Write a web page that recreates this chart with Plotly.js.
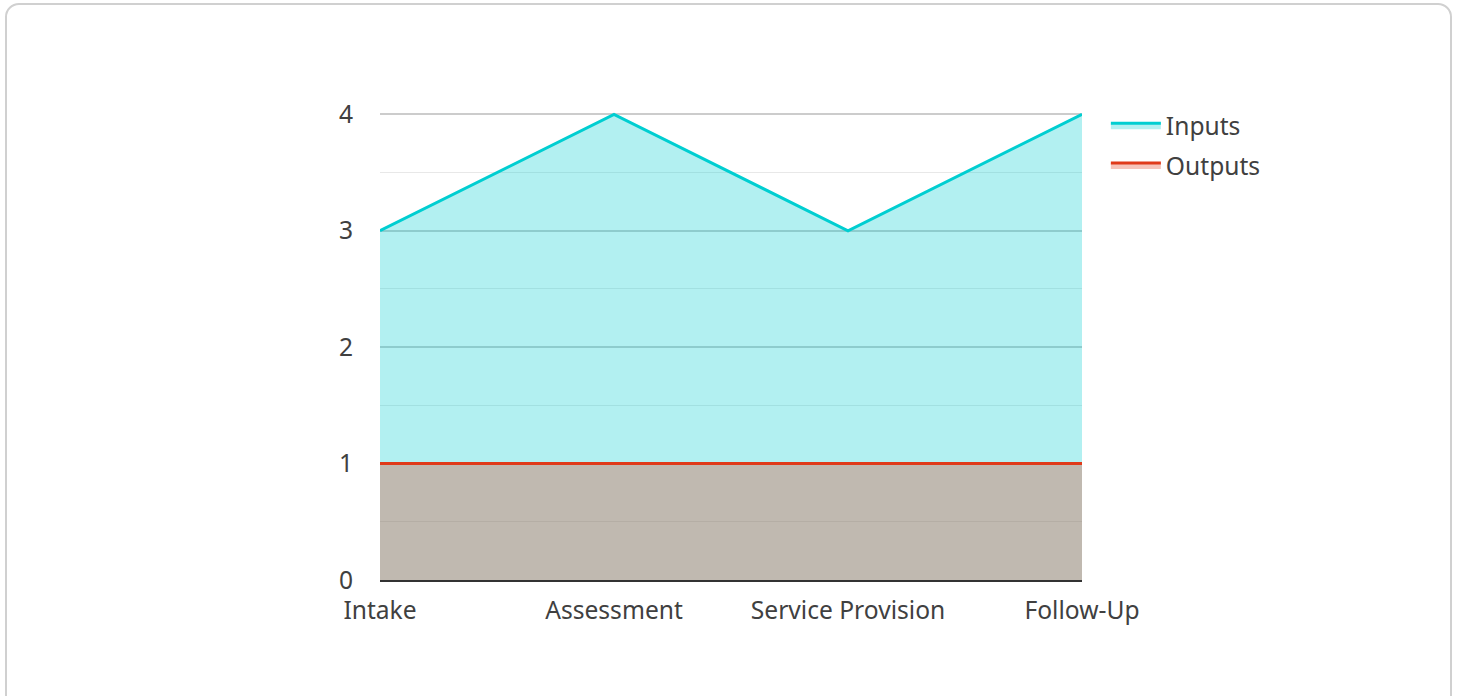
<!DOCTYPE html>
<html>
<head>
<meta charset="utf-8">
<script src="https://cdn.plot.ly/plotly-3.0.1.min.js"></script>
<style>
html,body{margin:0;padding:0;background:#fff;overflow:hidden;}
#card{position:absolute;left:5px;top:3px;width:1447px;height:720px;border:2px solid #d0d0d0;border-radius:14px;box-sizing:border-box;}
#chart{position:absolute;left:0;top:0;width:1458px;height:696px;}
</style>
</head>
<body>
<div id="card"></div>
<div id="chart"></div>
<script>
const stages = ["Intake", "Assessment", "Service Provision", "Follow-Up"];
const inputs = [3, 4, 3, 4];
const outputs = [1, 1, 1, 1];

const font = "'Noto Sans', 'Open Sans', sans-serif";
const txt = "#404040";
const fs = 24.6;

const traces = [
  {
    name: "Inputs", x: stages, y: inputs, type: "scatter", mode: "lines",
    fill: "tozeroy", fillcolor: "rgba(0,206,209,0.3)",
    line: {color: "#00CED1", width: 3}, legendgroup: "a", hoverinfo: "x+y"
  },
  {
    name: "Outputs", x: stages, y: outputs, type: "scatter", mode: "lines",
    fill: "tozeroy", fillcolor: "rgba(224,58,26,0.3)",
    line: {color: "#E03A1A", width: 3}, legendgroup: "b", hoverinfo: "x+y"
  }
];

const layout = {
  width: 1458, height: 696,
  paper_bgcolor: "rgba(0,0,0,0)", plot_bgcolor: "rgba(0,0,0,0)",
  margin: {l: 380, r: 376, t: 112, b: 116},
  font: {family: font, size: fs, color: txt},
  showlegend: true,
  legend: {
    x: 1.034, xanchor: "left", y: 1.02, yanchor: "top",
    font: {family: font, size: fs, color: txt},
    itemwidth: 50, traceorder: "grouped", tracegroupgap: 5,
    bgcolor: "rgba(0,0,0,0)"
  },
  xaxis: {
    type: "category", range: [0, 3], showgrid: false,
    showline: true, linecolor: "#333", linewidth: 2,
    ticks: "", ticklabelstandoff: 7,
    tickfont: {family: font, size: fs, color: txt},
    fixedrange: true
  },
  yaxis: {
    range: [0, 4.02], dtick: 1, showgrid: true, gridcolor: "#cccccc", gridwidth: 1.5,
    zeroline: false, showline: false, ticks: "", ticklabelstandoff: 26,
    tickfont: {family: font, size: fs, color: txt},
    minor: {dtick: 0.5, showgrid: true, gridcolor: "#e8e8e8", gridwidth: 1},
    fixedrange: true
  }
};

Plotly.newPlot("chart", traces, layout, {displayModeBar: false, responsive: false});
</script>
</body>
</html>
